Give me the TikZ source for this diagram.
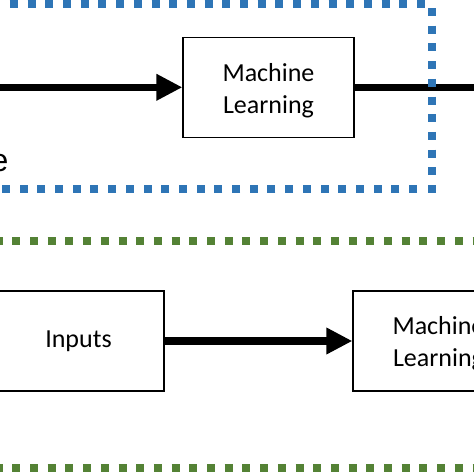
\documentclass[tikz,border=0pt]{standalone}
\usepackage{fontspec}
\setmainfont{Carlito}
\newfontfamily\arialfont{Liberation Sans}
\usetikzlibrary{arrows.meta}
\definecolor{dotblue}{HTML}{2E75B6}
\definecolor{dotgreen}{HTML}{548235}
\tikzset{
  mlbox/.style={draw=black, line width=1.2pt, fill=white, minimum width=171pt, minimum height=100pt, inner sep=0pt, align=center, font=\fontsize{26}{32}\selectfont},
  flow/.style={line width=7.5pt, -{Triangle[length=26pt,width=25pt]}},
  flowline/.style={line width=7.5pt},
  bluedots/.style={draw=dotblue, line width=8pt, dash pattern=on 8pt off 9.7pt},
  greendots/.style={draw=dotgreen, line width=8.5pt, dash pattern=on 8pt off 9.7pt}
}
\begin{document}
\begin{tikzpicture}[x=1pt,y=-1pt]
\useasboundingbox (0,0) rectangle (474,474);
\clip (0,0) rectangle (474,474);
\fill[white] (0,0) rectangle (474,474);
% top row
\node[mlbox] (mlA) at (268.5,87.3) {\rule{0pt}{24pt}Machine\\Learning};
\coordinate (inA) at (-20,87.3);
\coordinate (outA) at (490,87.3);
\draw[flow] (inA) -- (mlA.west);
\draw[flowline] (mlA.east) -- (outA);
\node[anchor=base east, inner sep=0pt, font=\arialfont\fontsize{32}{38}\selectfont] (lbl) at (8.5,171) {e};
\draw[bluedots] (-7.8,3.5) -- (429,3.5);
\draw[bluedots] (432,8) -- (432,196);
\draw[bluedots] (417,188.5) -- (-20,188.5);
% bottom row
\draw[greendots] (-5.4,241) -- (480,241);
\draw[greendots] (-5.4,468) -- (480,468);
\node[mlbox] (inp) at (78.5,341) {Inputs};
\node[mlbox] (mlB) at (438.5,341) {\rule{0pt}{24pt}Machine\\Learning};
\draw[flow] (inp.east) -- (mlB.west);
\end{tikzpicture}
\end{document}
